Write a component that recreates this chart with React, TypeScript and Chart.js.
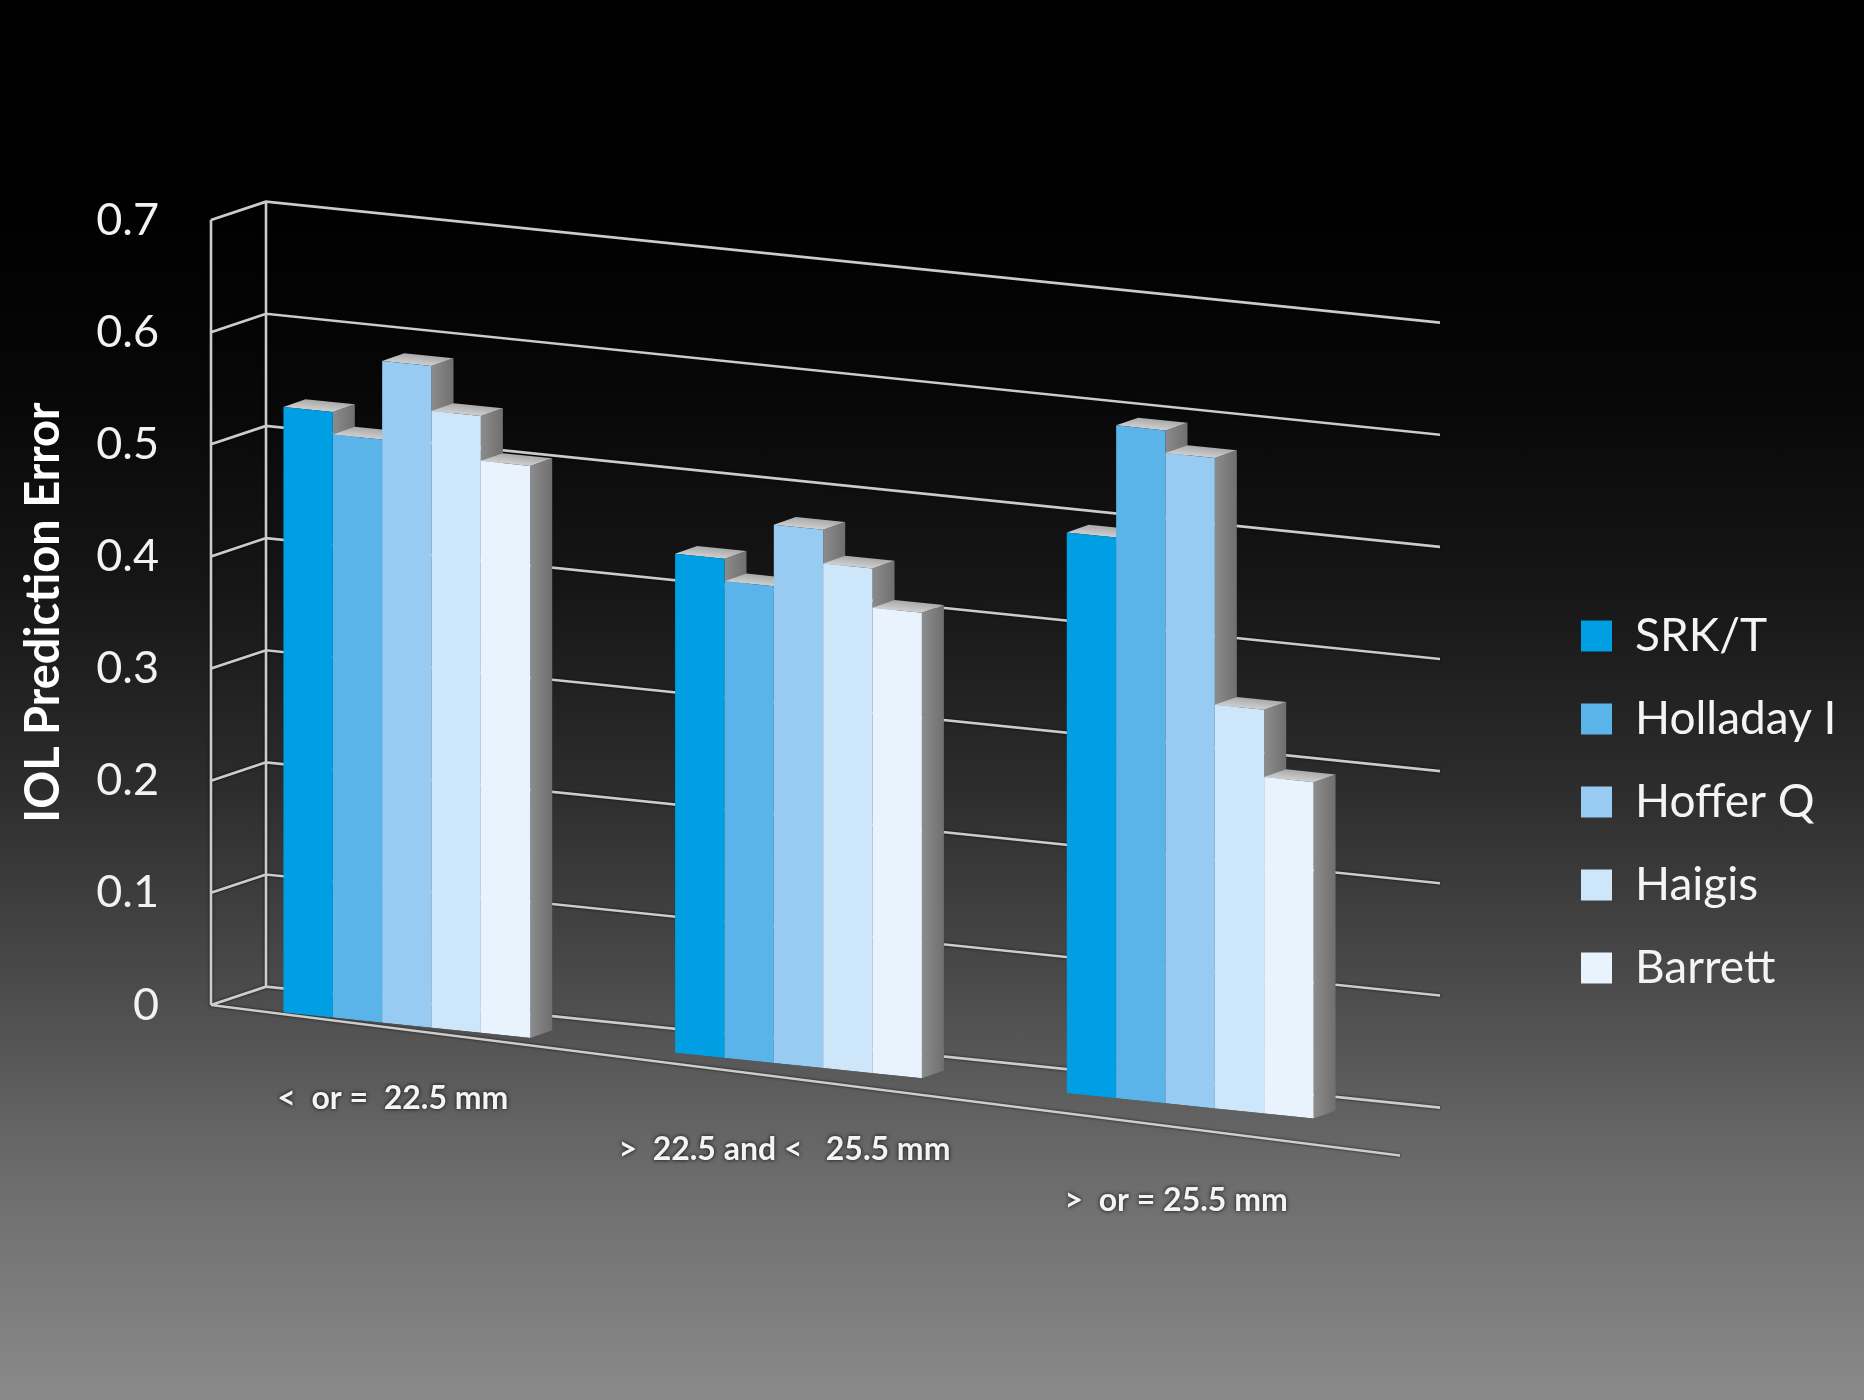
import React, { useEffect, useRef } from 'react';
import { Chart, registerables } from 'chart.js';

Chart.register(...registerables);

// ---------------- data ----------------
const categories = ['<  or =  22.5 mm', '>  22.5 and <   25.5 mm', '>  or = 25.5 mm'];
const seriesNames = ['SRK/T', 'Holladay I', 'Hoffer Q', 'Haigis', 'Barrett'];
const srkT = [0.54, 0.445, 0.5];
const holladayI = [0.52, 0.425, 0.6];
const hofferQ = [0.59, 0.48, 0.58];
const haigis = [0.55, 0.45, 0.36];
const barrett = [0.51, 0.415, 0.3];
const seriesColors = ['#009fe3', '#5ab4e9', '#97cbf2', '#cde6fa', '#e8f3fd'];
const yTickLabels = ['0', '0.1', '0.2', '0.3', '0.4', '0.5', '0.6', '0.7'];
const yAxisTitle = 'IOL Prediction Error';

// ---------------- layout / style constants ----------------
const W = 1864;
const H = 1400;
const PLOT_LEFT = 211;
const PLOT_RIGHT = 1386;
const PLOT_TOP = 220;
const PLOT_BOTTOM = 1005;
const SKEW = 0.103;
const WALL_DX = 55;
const WALL_DY = -24;
const BAR_DY = 0;
const DEPTH_DX = 22;
const DEPTH_DY = -10;
const GRID_END = 1440;
const FLOOR_END = 1400;
const FLOOR_DROP = 28;
const LINE_COLOR = 'rgba(214,214,214,0.95)';
const FONT = 'Lato';

function applySkew(ctx: CanvasRenderingContext2D, x0: number, extraY: number) {
  ctx.transform(1, SKEW, 0, 1, 0, -SKEW * x0 + extraY);
}

function barBoxes(chart: any) {
  const out: { l: number; r: number; y: number; base: number }[] = [];
  const n = chart.data.datasets.length;
  for (let d = 0; d < n; d++) {
    const meta = chart.getDatasetMeta(d);
    if (!meta || meta.hidden) continue;
    meta.data.forEach((el: any) => {
      const { x, y, base, width } = el.getProps(['x', 'y', 'base', 'width'], true);
      out.push({ l: x - width / 2, r: x + width / 2, y, base });
    });
  }
  return out;
}

const frame3D = {
  id: 'frame3D',
  afterLayout(chart: any) {
    const lg = chart.legend;
    if (!lg) return;
    const pad = lg.options.labels.padding;
    lg.left = 1581 - pad;
    lg.top = 613 - pad;
    lg.width = 300;
    lg.height = 520;
    lg.right = lg.left + lg.width;
    lg.bottom = lg.top + lg.height;
  },
  beforeDatasetsDraw(chart: any) {
    const { ctx, chartArea } = chart;
    const ys = chart.scales.y;
    const L = chartArea.left;
    const values: number[] = ys.ticks.map((t: any) => t.value);
    const pyTop = ys.getPixelForValue(ys.max);
    const py0 = ys.getPixelForValue(0);
    ctx.save();
    applySkew(ctx, L, 0);
    ctx.strokeStyle = LINE_COLOR;
    ctx.lineWidth = 2.6;
    ctx.shadowColor = 'rgba(0,0,0,0.8)';
    ctx.shadowBlur = 3;
    ctx.beginPath();
    values.forEach((v) => {
      const py = ys.getPixelForValue(v);
      ctx.moveTo(L, py);
      ctx.lineTo(L + WALL_DX, py + WALL_DY);
      ctx.lineTo(GRID_END, py + WALL_DY);
    });
    ctx.moveTo(L + WALL_DX, pyTop + WALL_DY);
    ctx.lineTo(L + WALL_DX, py0 + WALL_DY);
    ctx.moveTo(L, pyTop);
    ctx.lineTo(L, py0);
    ctx.moveTo(L, py0);
    ctx.lineTo(FLOOR_END, py0 + FLOOR_DROP);
    ctx.stroke();
    ctx.restore();

    ctx.save();
    applySkew(ctx, L, BAR_DY);
    const boxes = barBoxes(chart);
    // side faces first (all bars), then top faces, then Chart.js draws the fronts
    boxes.forEach(({ r, y, base }) => {
      const g = ctx.createLinearGradient(r, 0, r + DEPTH_DX, 0);
      g.addColorStop(0, '#8c8c8c');
      g.addColorStop(1, '#6f6f6f');
      ctx.fillStyle = g;
      ctx.beginPath();
      ctx.moveTo(r, y);
      ctx.lineTo(r + DEPTH_DX, y + DEPTH_DY);
      ctx.lineTo(r + DEPTH_DX, base + DEPTH_DY);
      ctx.lineTo(r, base);
      ctx.closePath();
      ctx.fill();
    });
    boxes.forEach(({ l, r, y }) => {
      const g = ctx.createLinearGradient(0, y + DEPTH_DY, 0, y);
      g.addColorStop(0, '#a9a9a9');
      g.addColorStop(1, '#cfcfcf');
      ctx.fillStyle = g;
      ctx.beginPath();
      ctx.moveTo(l, y);
      ctx.lineTo(r, y);
      ctx.lineTo(r + DEPTH_DX, y + DEPTH_DY);
      ctx.lineTo(l + DEPTH_DX, y + DEPTH_DY);
      ctx.closePath();
      ctx.fill();
    });
  },
  afterDatasetsDraw(chart: any) {
    chart.ctx.restore();
  },
  afterDraw(chart: any) {
    const { ctx, chartArea } = chart;
    const xs = chart.scales.x;
    const ys = chart.scales.y;
    ctx.save();
    ctx.font = `bold 32px ${FONT}`;
    ctx.fillStyle = '#f4f4f4';
    ctx.textAlign = 'center';
    ctx.textBaseline = 'middle';
    ctx.shadowColor = 'rgba(0,0,0,0.9)';
    ctx.shadowBlur = 4;
    categories.forEach((c, i) => {
      const x = xs.getPixelForValue(i) - 14;
      const y = ys.getPixelForValue(0) + 0.13 * (x - chartArea.left) + 70;
      ctx.fillText(c, x, y);
    });
    ctx.restore();
  },
};

export default function App() {
  const canvasRef = useRef<HTMLCanvasElement | null>(null);

  useEffect(() => {
    document.body.style.margin = '0';
    const canvas = canvasRef.current;
    if (!canvas) return;
    const seriesData = [srkT, holladayI, hofferQ, haigis, barrett];
    const chart = new Chart(canvas, {
      type: 'bar',
      data: {
        labels: categories,
        datasets: seriesNames.map((name, i) => ({
          label: name,
          data: seriesData[i],
          backgroundColor: seriesColors[i],
          borderWidth: 0,
          categoryPercentage: 0.63,
          barPercentage: 1,
        })),
      },
      options: {
        responsive: false,
        animation: false,
        devicePixelRatio: 1,
        layout: {
          padding: { left: 0, right: W - PLOT_RIGHT, top: PLOT_TOP, bottom: H - PLOT_BOTTOM },
        },
        scales: {
          x: { display: false },
          y: {
            min: 0,
            max: 0.7,
            position: 'left',
            afterFit: (s: any) => {
              s.width = PLOT_LEFT;
            },
            grid: { display: false, drawTicks: false },
            border: { display: false },
            ticks: {
              stepSize: 0.1,
              padding: 52,
              color: '#f2f2f2',
              font: { family: FONT, size: 45 },
              callback: (v: any) => yTickLabels[Math.round(Number(v) * 10)],
            },
            title: {
              display: true,
              text: yAxisTitle,
              color: '#ffffff',
              font: { family: FONT, size: 47, weight: 'bold' },
              padding: { top: 16, bottom: 0 },
            },
          },
        },
        plugins: {
          legend: {
            position: 'chartArea',
            align: 'start',
            labels: {
              boxWidth: 31,
              boxHeight: 31,
              padding: 37,
              color: '#f4f4f4',
              font: { family: FONT, size: 46 },
            },
          },
          tooltip: { enabled: false },
        },
      } as any,
      plugins: [frame3D as any],
    });
    return () => chart.destroy();
  }, []);

  return (
    <div
      style={{
        position: 'absolute',
        left: 0,
        top: 0,
        width: W,
        height: H,
        background:
          'linear-gradient(to bottom, #000000 0%, #000000 14%, #070707 28%, #161616 42%, #2c2c2c 56%, #4a4a4a 70%, #6c6c6c 84%, #8a8a8a 100%)',
      }}
    >
      <canvas ref={canvasRef} width={W} height={H} style={{ display: 'block', width: W, height: H }} />
    </div>
  );
}
